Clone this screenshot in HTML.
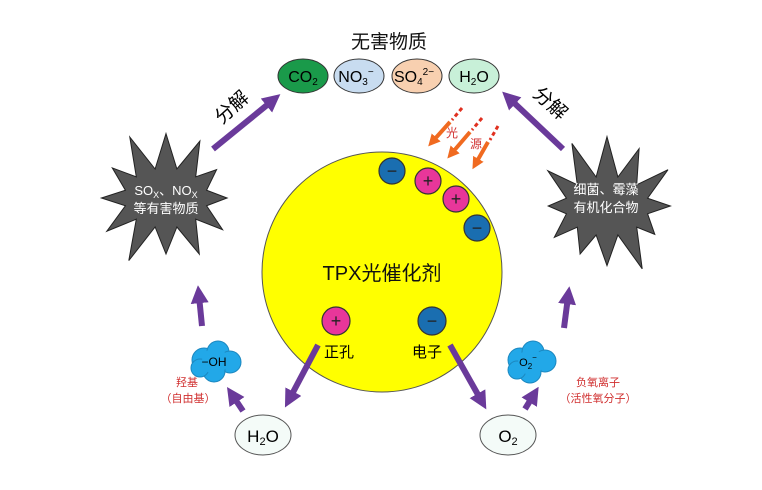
<!DOCTYPE html>
<html><head><meta charset="utf-8"><style>
html,body{margin:0;padding:0;background:#fff}
svg{display:block}
text{font-family:"Liberation Sans","Noto Sans CJK SC",sans-serif}
</style></head><body>
<svg width="762" height="490" viewBox="0 0 762 490" xmlns="http://www.w3.org/2000/svg">
<defs>
<marker id="ah" markerWidth="3" markerHeight="3" refX="1.2" refY="1.5" orient="auto" markerUnits="strokeWidth"><path d="M0,0 L3,1.5 L0,3 z" fill="#6a3a9a"/></marker>
<marker id="oh" markerWidth="3" markerHeight="3" refX="1.2" refY="1.5" orient="auto" markerUnits="strokeWidth"><path d="M0,0 L3,1.5 L0,3 z" fill="#f06a20"/></marker>
</defs>
<text x="389" y="48" font-size="19" text-anchor="middle" fill="#111">无害物质</text>
<ellipse cx="303" cy="76" rx="25" ry="17" fill="#1a9a4a" stroke="#333"/>
<text x="303" y="82" font-size="16" text-anchor="middle">CO<tspan font-size="10" dy="3">2</tspan></text>
<ellipse cx="359" cy="76" rx="25" ry="17" fill="#c8dcf0" stroke="#333"/>
<text x="356" y="82" font-size="16" text-anchor="middle">NO<tspan font-size="10" dy="3">3</tspan><tspan font-size="10" dy="-10">−</tspan></text>
<ellipse cx="417" cy="76" rx="25" ry="17" fill="#f8d0b0" stroke="#333"/>
<text x="414" y="82" font-size="16" text-anchor="middle">SO<tspan font-size="10" dy="3">4</tspan><tspan font-size="10" dy="-10">2−</tspan></text>
<ellipse cx="474" cy="76" rx="25" ry="17" fill="#c8f0d8" stroke="#333"/>
<text x="474" y="82" font-size="16" text-anchor="middle">H<tspan font-size="10" dy="3">2</tspan><tspan dy="-3">O</tspan></text>

<line x1="213" y1="149" x2="272" y2="101" stroke="#6a3a9a" stroke-width="6" marker-end="url(#ah)"/>
<line x1="563" y1="149" x2="510" y2="99" stroke="#6a3a9a" stroke-width="6" marker-end="url(#ah)"/>
<text x="236" y="112" font-size="19" text-anchor="middle" transform="rotate(-42 236 112)">分解</text>
<text x="546" y="108" font-size="19" text-anchor="middle" transform="rotate(42 546 108)">分解</text>

<polygon id="s1" fill="#555" stroke="#222"/>
<polygon id="s2" fill="#555" stroke="#222"/>
<text x="166" y="195" font-size="13" fill="#fff" text-anchor="middle">SO<tspan font-size="9" dy="3">X</tspan><tspan dy="-3">、NO</tspan><tspan font-size="9" dy="3">X</tspan></text>
<text x="166" y="213" font-size="13" fill="#fff" text-anchor="middle">等有害物质</text>
<text x="606" y="194" font-size="13" fill="#fff" text-anchor="middle">细菌、霉藻</text>
<text x="606" y="212" font-size="13" fill="#fff" text-anchor="middle">有机化合物</text>

<circle cx="382" cy="272" r="120" fill="#ffff00" stroke="#555"/>
<text x="382" y="280" font-size="20" text-anchor="middle" fill="#111">TPX光催化剂</text>

<g stroke="#333" stroke-width="1.2">
<circle cx="392" cy="171" r="13" fill="#1a6eb0"/>
<circle cx="428" cy="181" r="13" fill="#e8369a"/>
<circle cx="456" cy="199" r="13" fill="#e8369a"/>
<circle cx="477" cy="228" r="13" fill="#1a6eb0"/>
<circle cx="336" cy="321" r="14" fill="#e8369a"/>
<circle cx="432" cy="321" r="14" fill="#1a6eb0"/>
</g>
<g font-size="18" text-anchor="middle" fill="#222">
<text x="392" y="177">−</text><text x="428" y="187">+</text><text x="456" y="205">+</text><text x="477" y="234">−</text>
<text x="336" y="327">+</text><text x="432" y="327">−</text>
</g>
<text x="339" y="357" font-size="15" text-anchor="middle">正孔</text>
<text x="427" y="357" font-size="15" text-anchor="middle">电子</text>

<g stroke="#f06a20" stroke-width="4">
<line x1="450" y1="122" x2="433" y2="141" marker-end="url(#oh)"/>
<line x1="470" y1="132" x2="452" y2="153" marker-end="url(#oh)"/>
<line x1="488" y1="142" x2="476" y2="163" marker-end="url(#oh)"/>
</g>
<g stroke="#e03020" stroke-width="3" stroke-dasharray="4 3">
<line x1="462" y1="108" x2="452" y2="120"/>
<line x1="482" y1="118" x2="472" y2="130"/>
<line x1="498" y1="126" x2="490" y2="140"/>
</g>
<text x="452" y="137" font-size="12" fill="#d03030" text-anchor="middle">光</text>
<text x="476" y="148" font-size="12" fill="#d03030" text-anchor="middle">源</text>

<g stroke="#6a3a9a" stroke-width="6" marker-end="url(#ah)">
<line x1="202" y1="326" x2="199" y2="296"/>
<line x1="243" y1="411" x2="233" y2="396"/>
<line x1="318" y1="345" x2="290" y2="398"/>
<line x1="450" y1="345" x2="481" y2="400"/>
<line x1="525" y1="409" x2="533" y2="396"/>
<line x1="564" y1="328" x2="568" y2="297"/>
</g>

<g fill="#22a8e8" stroke="#1c88c0">
<circle cx="204" cy="360" r="12"/><circle cx="218" cy="352" r="11"/><circle cx="230" cy="362" r="11"/><circle cx="214" cy="371" r="11"/><circle cx="200" cy="368" r="9"/>
<circle cx="520" cy="360" r="12"/><circle cx="533" cy="352" r="11"/><circle cx="545" cy="361" r="11"/><circle cx="530" cy="372" r="11"/><circle cx="517" cy="370" r="9"/>
</g>
<g fill="#22a8e8">
<circle cx="215" cy="361" r="13"/><circle cx="531" cy="362" r="13"/>
</g>
<text x="214" y="366" font-size="12" text-anchor="middle">−OH</text>
<text x="528" y="366" font-size="11" text-anchor="middle">O<tspan font-size="8" dy="3">2</tspan><tspan font-size="8" dy="-9">−</tspan></text>
<text x="187" y="386" font-size="11" fill="#d03030" text-anchor="middle">羟基</text>
<text x="188" y="402" font-size="11" fill="#d03030" text-anchor="middle">（自由基）</text>
<text x="598" y="386" font-size="11" fill="#d03030" text-anchor="middle">负氧离子</text>
<text x="598" y="402" font-size="11" fill="#d03030" text-anchor="middle">（活性氧分子）</text>

<ellipse cx="263" cy="435" rx="28" ry="20" fill="#f4fbf8" stroke="#555"/>
<text x="263" y="442" font-size="17" text-anchor="middle">H<tspan font-size="11" dy="3">2</tspan><tspan dy="-3">O</tspan></text>
<ellipse cx="508" cy="435" rx="28" ry="20" fill="#f4fbf8" stroke="#555"/>
<text x="508" y="442" font-size="17" text-anchor="middle">O<tspan font-size="11" dy="3">2</tspan></text>
</svg>
<script>
function star(id,cx,cy,rx,ry,irx,iry,n,seed){
 var pts=[],s=seed;
 function r(){s=(s*9301+49297)%233280;return s/233280;}
 for(var i=0;i<2*n;i++){
  var a=i*Math.PI/n-Math.PI/2;
  var k=i%2==0?(0.8+0.3*r()):1;
  var x=cx+Math.cos(a)*(i%2==0?rx*k:irx), y=cy+Math.sin(a)*(i%2==0?ry*k:iry);
  pts.push(x.toFixed(1)+","+y.toFixed(1));
 }
 document.getElementById(id).setAttribute("points",pts.join(" "));
}
star("s1",166,198,70,68,42,30,12,7);
star("s2",607,206,66,68,42,30,12,13);
</script>
</body></html>
